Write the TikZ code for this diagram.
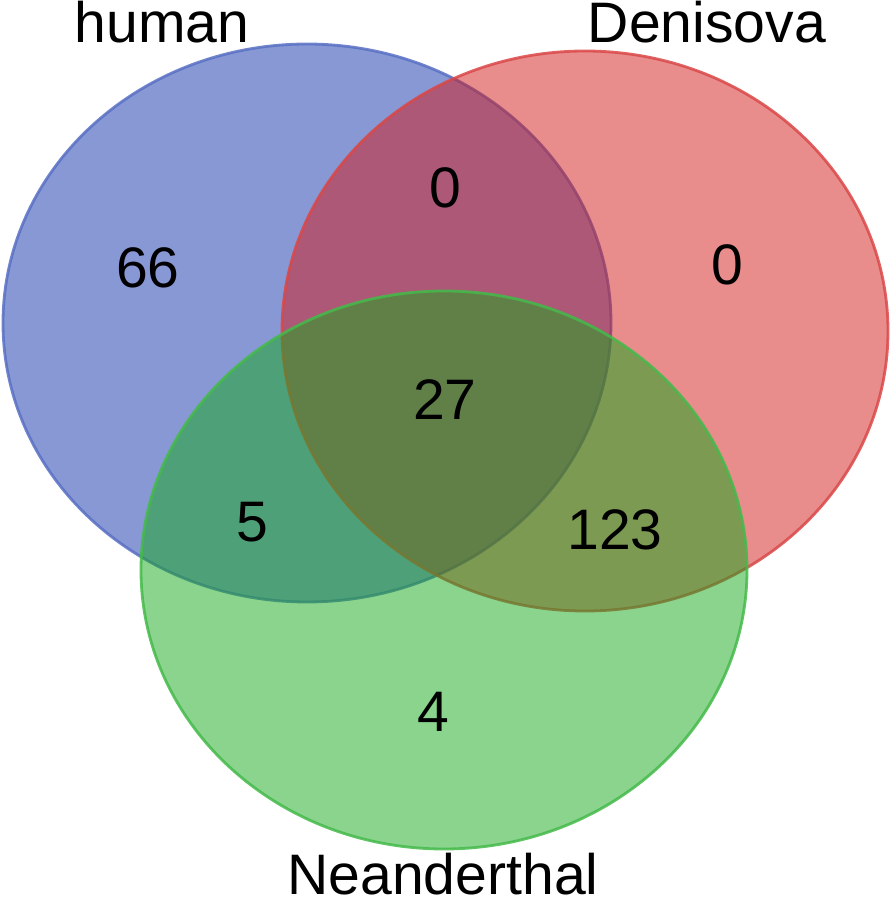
\documentclass[tikz,border=0pt]{standalone}
\usepackage{fontspec}
\setmainfont{Liberation Sans}
\definecolor{hblue}{RGB}{17,49,169}
\definecolor{dred}{RGB}{209,25,25}
\definecolor{ngreen}{RGB}{21,169,29}
\tikzstyle{setb}=[fill=hblue,fill opacity=0.5,draw=hblue!70!white,draw opacity=0.85,line width=1.6pt]
\tikzstyle{setr}=[fill=dred,fill opacity=0.5,draw=dred!80!white,draw opacity=0.85,line width=1.6pt]
\tikzstyle{setg}=[fill=ngreen,fill opacity=0.5,draw=ngreen!80!white,draw opacity=0.85,line width=1.6pt]
\tikzstyle{count}=[font=\fontsize{32.5}{38}\selectfont,inner sep=0pt]
\tikzstyle{setname}=[font=\fontsize{32.5}{38}\selectfont,inner sep=0pt,anchor=base]

\begin{document}
\begin{tikzpicture}[x=0.02cm,y=0.02cm]
    \useasboundingbox (0,0) rectangle (896,903);
    \filldraw[setb] (307,580) ellipse [x radius=304, y radius=279];
    \filldraw[setr] (585,572) ellipse [x radius=303, y radius=280];
    \filldraw[setg] (444,333) ellipse [x radius=303, y radius=279];

    \node[setname] (lh) at (162,860) {human};
    \node[setname] (ld) at (707,860) {Denisova};
    \node[setname] (ln) at (443,9) {Neanderthal};

    \foreach \name/\pos/\val in {c1/{148,635}/66,c2/{445,715}/0,c3/{727,638}/0,c4/{445,503}/27,c5/{252,381}/5,c6/{615,373}/123,c7/{433,191}/4}
    \node[count] (\name) at (\pos) {\val};
\end{tikzpicture}
\end{document}
